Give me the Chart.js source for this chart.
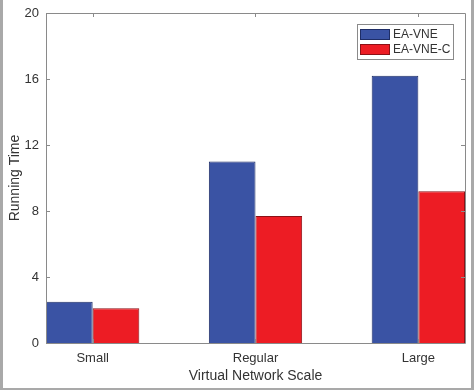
<!DOCTYPE html>
<html>
<head>
<meta charset="utf-8">
<script src="https://cdn.jsdelivr.net/npm/chart.js@4"></script>
<style>
  html, body { margin: 0; padding: 0; background: #fff; }
  #wrap { position: relative; width: 474px; height: 390px; }
</style>
</head>
<body>
<div id="wrap"><canvas id="graph" width="474" height="390"></canvas></div>
<script>
const categories = ['Small', 'Regular', 'Large'];
const seriesNames = ['EA-VNE', 'EA-VNE-C'];
const eaVne = [2.5, 11.0, 16.2];
const eaVneC = [2.1, 7.7, 9.2];
const yTicks = [0, 4, 8, 12, 16, 20];

const FONT = '"Liberation Sans", Arial, Helvetica, sans-serif';
const TEXT = '#333333';
const AXIS = '#8a8a8a';

// matlab-like box, inner ticks, legend and the grey picture frame
const boxPlugin = {
  id: 'box',
  beforeDraw(c) {
    const ctx = c.ctx;
    ctx.save();
    ctx.fillStyle = '#ffffff';
    ctx.fillRect(0, 0, c.width, c.height);
    ctx.fillStyle = '#a9a9a9';
    ctx.fillRect(0, 0, 3, c.height);
    ctx.fillRect(c.width - 3, 0, 3, c.height);
    ctx.fillRect(0, c.height - 2, c.width, 2);
    ctx.restore();
  },
  afterDatasetsDraw(c) {
    const ctx = c.ctx;
    const a = c.chartArea;
    const xs = c.scales.x, ys = c.scales.y;
    ctx.save();
    ctx.strokeStyle = AXIS;
    ctx.lineWidth = 1;
    ctx.beginPath();
    ctx.rect(Math.round(a.left) + 0.5, Math.round(a.top) + 0.5,
             Math.round(a.right - a.left), Math.round(a.bottom - a.top));
    ctx.stroke();
    ctx.beginPath();
    ys.ticks.forEach(t => {
      const y = Math.round(ys.getPixelForValue(t.value)) + 0.5;
      ctx.moveTo(a.left, y); ctx.lineTo(a.left + 4, y);
      ctx.moveTo(a.right, y); ctx.lineTo(a.right - 4, y);
    });
    xs.ticks.forEach(t => {
      const x = Math.round(xs.getPixelForValue(t.value)) + 0.5;
      ctx.moveTo(x, a.top); ctx.lineTo(x, a.top + 4);
      ctx.moveTo(x, a.bottom); ctx.lineTo(x, a.bottom - 4);
    });
    ctx.stroke();

    // legend
    const bw = 96, bh = 35;
    const bx = Math.round(a.right - 12 - bw), by = Math.round(a.top + 11);
    ctx.fillStyle = '#ffffff';
    ctx.fillRect(bx, by, bw, bh);
    ctx.strokeStyle = AXIS;
    ctx.strokeRect(bx + 0.5, by + 0.5, bw, bh);
    ctx.font = '12px ' + FONT;
    ctx.textBaseline = 'middle';
    ctx.textAlign = 'left';
    c.data.datasets.forEach((ds, i) => {
      const sy = by + 5 + i * 15;
      ctx.fillStyle = ds.backgroundColor;
      ctx.fillRect(bx + 3, sy, 30, 11);
      ctx.strokeStyle = ds.borderColor;
      ctx.strokeRect(bx + 3.5, sy + 0.5, 29, 10);
      ctx.fillStyle = TEXT;
      ctx.fillText(ds.label, bx + 36, sy + 6);
    });
    ctx.restore();
  }
};

const toPoints = vals => vals.map((v, i) => ({ x: i + 1, y: v }));

new Chart(document.getElementById('graph').getContext('2d'), {
  type: 'bar',
  data: {
    datasets: [{
      label: seriesNames[0],
      data: toPoints(eaVne),
      backgroundColor: '#3a53a4',
      borderColor: '#1e2d66',
      borderWidth: 1
    }, {
      label: seriesNames[1],
      data: toPoints(eaVneC),
      backgroundColor: '#ed1c24',
      borderColor: '#8c1116',
      borderWidth: 1
    }]
  },
  options: {
    responsive: false,
    animation: false,
    devicePixelRatio: 1,
    categoryPercentage: 0.573,
    barPercentage: 1,
    layout: { padding: { left: 0, right: 9, top: 13, bottom: 0 } },
    plugins: { legend: { display: false }, tooltip: { enabled: false } },
    scales: {
      x: {
        type: 'linear',
        offset: false,
        min: 0.7135,
        max: 3.2865,
        grid: { display: false, drawTicks: false, offset: false },
        border: { display: false },
        afterBuildTicks: s => { s.ticks = categories.map((c, i) => ({ value: i + 1 })); },
        afterFit: s => { s.height = 47; s.paddingLeft = 0; s.paddingRight = 0; },
        ticks: {
          padding: 8,
          color: TEXT,
          font: { family: FONT, size: 13 },
          callback: v => categories[v - 1]
        },
        title: {
          display: true,
          text: 'Virtual Network Scale',
          color: TEXT,
          font: { family: FONT, size: 14 },
          padding: { top: 0, bottom: 5 }
        }
      },
      y: {
        min: 0,
        max: 20,
        grid: { display: false, drawTicks: false },
        border: { display: false },
        afterBuildTicks: s => { s.ticks = yTicks.map(v => ({ value: v })); },
        afterFit: s => { s.width = 46; s.paddingTop = 0; s.paddingBottom = 0; },
        ticks: {
          padding: 7,
          color: TEXT,
          font: { family: FONT, size: 13 }
        },
        title: {
          display: true,
          text: 'Running Time',
          color: TEXT,
          font: { family: FONT, size: 14 },
          padding: { top: 7, bottom: 0 }
        }
      }
    }
  },
  plugins: [boxPlugin]
});
</script>
</body>
</html>
